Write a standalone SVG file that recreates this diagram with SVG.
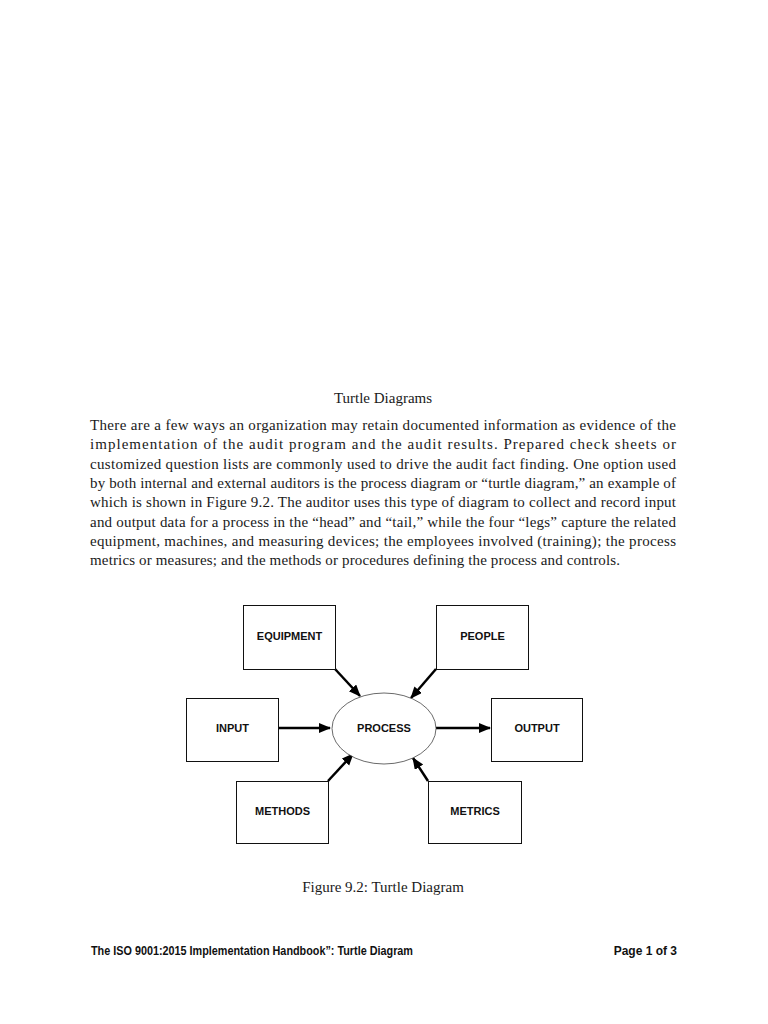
<svg xmlns="http://www.w3.org/2000/svg" width="768" height="1024" viewBox="0 0 768 1024">
<style>
.body{font-family:"Liberation Serif","DejaVu Serif",serif;font-size:15px;fill:#1a1a1a}
.lbl{font-family:"Liberation Sans","Open Sans",sans-serif;font-size:11px;font-weight:bold;fill:#111;text-anchor:middle}
.box{fill:#fff;stroke:#111;stroke-width:1}
.conn{stroke:#000;stroke-width:2.5;fill:none;marker-end:url(#ah)}
.foot{font-family:"Liberation Sans","Open Sans",sans-serif;font-size:12px;fill:#111}
</style>
<defs>
<marker id="ah" markerUnits="userSpaceOnUse" markerWidth="14" markerHeight="12" refX="11" refY="5" orient="auto">
<path d="M0,0 L12,5 L0,10 Z" fill="#000"/>
</marker>
</defs>
<rect width="768" height="1024" fill="#fff"/>

<text class="body" x="383" y="403" text-anchor="middle">Turtle Diagrams</text>
<g class="body">
<text x="90" y="430" textLength="586" lengthAdjust="spacing">There are a few ways an organization may retain documented information as evidence of the</text>
<text x="90" y="449.3" textLength="586" lengthAdjust="spacing">implementation of the audit program and the audit results. Prepared check sheets or</text>
<text x="90" y="468.6" textLength="586" lengthAdjust="spacing">customized question lists are commonly used to drive the audit fact finding. One option used</text>
<text x="90" y="487.9" textLength="586" lengthAdjust="spacing">by both internal and external auditors is the process diagram or “turtle diagram,” an example of</text>
<text x="90" y="507.2" textLength="586" lengthAdjust="spacing">which is shown in Figure 9.2. The auditor uses this type of diagram to collect and record input</text>
<text x="90" y="526.5" textLength="586" lengthAdjust="spacing">and output data for a process in the “head” and “tail,” while the four “legs” capture the related</text>
<text x="90" y="545.8" textLength="586" lengthAdjust="spacing">equipment, machines, and measuring devices; the employees involved (training); the process</text>
<text x="90" y="565" textLength="530" lengthAdjust="spacing">metrics or measures; and the methods or procedures defining the process and controls.</text>
</g>

<g id="connectors">
<line class="conn" x1="278" y1="728" x2="330" y2="728"/>
<line class="conn" x1="436" y1="728" x2="490" y2="728"/>
<line class="conn" x1="335" y1="669" x2="360" y2="696"/>
<line class="conn" x1="436" y1="669" x2="411" y2="698"/>
<line class="conn" x1="328" y1="781" x2="353" y2="754"/>
<line class="conn" x1="428" y1="781" x2="413" y2="758"/>
</g>

<g id="process">
<ellipse cx="384" cy="728.5" rx="52" ry="35.5" fill="#fff" stroke="#444" stroke-width="0.8"/>
<text class="lbl" x="384" y="732">PROCESS</text>
</g>
<g id="equipment">
<rect class="box" x="243.5" y="605.5" width="92" height="64"/>
<text class="lbl" x="289.5" y="640">EQUIPMENT</text>
</g>
<g id="people">
<rect class="box" x="436.5" y="605.5" width="92" height="64"/>
<text class="lbl" x="482.5" y="640">PEOPLE</text>
</g>
<g id="input">
<rect class="box" x="186.5" y="698.5" width="92" height="63"/>
<text class="lbl" x="232.5" y="732">INPUT</text>
</g>
<g id="output">
<rect class="box" x="491.5" y="698.5" width="91" height="63"/>
<text class="lbl" x="537" y="732">OUTPUT</text>
</g>
<g id="methods">
<rect class="box" x="236.5" y="781.5" width="92" height="62"/>
<text class="lbl" x="282.5" y="815">METHODS</text>
</g>
<g id="metrics">
<rect class="box" x="428.5" y="781.5" width="93" height="62"/>
<text class="lbl" x="475" y="815">METRICS</text>
</g>

<text class="body" x="383" y="892" text-anchor="middle">Figure 9.2: Turtle Diagram</text>

<text class="foot" x="91" y="955" font-weight="600" textLength="322" lengthAdjust="spacingAndGlyphs">The ISO 9001:2015 Implementation Handbook”: Turtle Diagram</text>
<text class="foot" x="677" y="955" text-anchor="end" font-weight="bold" font-size="13">Page 1 of 3</text>
</svg>
